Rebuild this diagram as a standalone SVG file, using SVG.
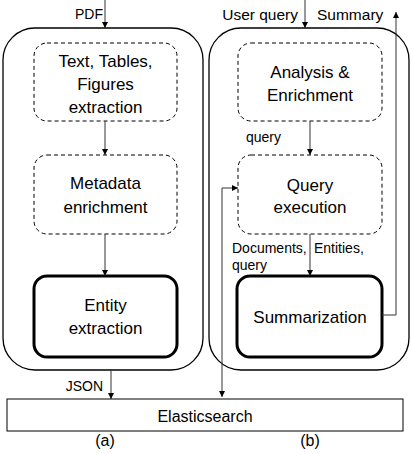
<svg xmlns="http://www.w3.org/2000/svg" width="412" height="454" viewBox="0 0 412 454">
<style>
.panel{fill:#fff;stroke:#000;stroke-width:1.3}
.dash{fill:#fff;stroke:#000;stroke-width:1;stroke-dasharray:4 3}
.thick{fill:#fff;stroke:#000;stroke-width:3}
.db{fill:#fff;stroke:#000;stroke-width:1}
.t{font-family:"Liberation Sans",Arial,sans-serif;font-size:17px;fill:#000;text-anchor:middle}
.l{font-family:"Liberation Sans",Arial,sans-serif;font-size:14px;fill:#000}
.c{fill:none;stroke:#333;stroke-width:1;marker-end:url(#ah)}
</style>
<defs>
<marker id="ah" viewBox="0 0 10 10" refX="10" refY="5" markerWidth="6" markerHeight="6" markerUnits="userSpaceOnUse" orient="auto">
<path d="M0,0 L10,5 L0,10 z" fill="#000"/>
</marker>
<marker id="as" viewBox="0 0 10 10" refX="10" refY="5" markerWidth="6" markerHeight="6" markerUnits="userSpaceOnUse" orient="auto-start-reverse">
<path d="M0,0 L10,5 L0,10 z" fill="#000"/>
</marker>
</defs>
<rect width="412" height="454" fill="#fff"/>
<g id="panel-a"><rect class="panel" x="3" y="28" width="200" height="342" rx="32"/></g>
<g id="panel-b"><rect class="panel" x="209" y="28" width="200" height="342" rx="32"/></g>
<g id="text-extraction"><rect class="dash" x="34" y="43" width="143" height="78" rx="13"/>
<text class="t" x="105.5" y="67">Text, Tables,</text><text class="t" x="105.5" y="90">Figures</text><text class="t" x="105.5" y="113">extraction</text></g>
<g id="metadata"><rect class="dash" x="34" y="155" width="143" height="79" rx="13"/>
<text class="t" x="105.5" y="189">Metadata</text><text class="t" x="105.5" y="213">enrichment</text></g>
<g id="entity"><rect class="thick" x="34" y="276" width="143" height="81" rx="13"/>
<text class="t" x="105.5" y="311">Entity</text><text class="t" x="105.5" y="334">extraction</text></g>
<g id="analysis"><rect class="dash" x="238" y="43" width="144" height="78" rx="13"/>
<text class="t" x="310" y="78">Analysis &amp;</text><text class="t" x="310" y="101">Enrichment</text></g>
<g id="query-exec"><rect class="dash" x="238" y="155" width="144" height="79" rx="13"/>
<text class="t" x="310" y="191">Query</text><text class="t" x="310" y="213">execution</text></g>
<g id="summarization"><rect class="thick" x="237" y="276" width="145" height="81" rx="13"/>
<text class="t" x="310" y="323">Summarization</text></g>
<g id="elasticsearch"><rect class="db" x="7" y="399" width="396" height="32"/>
<text class="t" x="205" y="422" style="font-size:16px">Elasticsearch</text></g>
<g id="connectors">
<path class="c" d="M105,0 V28"/>
<path class="c" d="M105,121 V155"/>
<path class="c" d="M105,234 V276"/>
<path class="c" d="M111,370 V399"/>
<path class="c" d="M305,0 V28"/>
<path class="c" d="M310,121 V155"/>
<path class="c" d="M310,234 V276"/>
<path class="c" d="M382,315 H396 V12"/>
<path class="c" d="M222,397 V188 H238" style="marker-start:url(#as)"/>
</g>
<g id="labels">
<text class="l" x="103" y="19" text-anchor="end" style="font-size:14px">PDF</text>
<text class="l" x="298" y="20" text-anchor="end" style="font-size:15.5px">User query</text>
<text class="l" x="317" y="20" style="font-size:15.5px">Summary</text>
<text class="l" x="246" y="142">query</text>
<text class="l" x="232" y="253">Documents, <tspan x="314">Entities,</tspan></text>
<text class="l" x="232" y="270">query</text>
<text class="l" x="103" y="391" text-anchor="end">JSON</text>
<text class="t" x="105" y="446" style="font-size:16px">(a)</text>
<text class="t" x="310" y="446" style="font-size:16px">(b)</text>
</g>
</svg>
